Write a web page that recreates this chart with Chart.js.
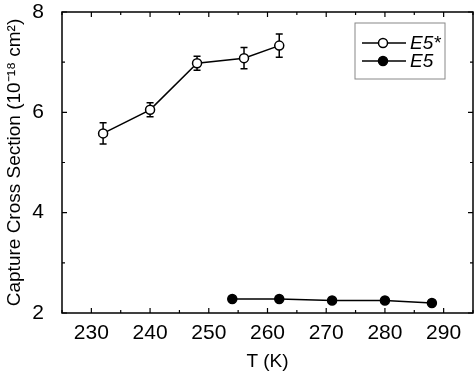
<!DOCTYPE html>
<html>
<head>
<meta charset="utf-8">
<script src="https://cdn.jsdelivr.net/npm/chart.js@4"></script>
<style>
  html, body { margin: 0; padding: 0; background: #fff; }
</style>
</head>
<body>
<canvas id="chart" width="474" height="374"></canvas>
<script>
// E5* (open circles, with error bars)
const tempE5s = [232, 240, 248, 256, 262];
const sigmaE5s = [5.58, 6.05, 6.98, 7.08, 7.33];
const errE5s = [0.21, 0.14, 0.14, 0.21, 0.23];
// E5 (filled circles)
const tempE5 = [254, 262, 271, 280, 288];
const sigmaE5 = [2.28, 2.28, 2.25, 2.25, 2.20];

const xTicks = [230, 240, 250, 260, 270, 280, 290];
const yTicks = [2, 4, 6, 8];
const legendLabels = ['E5*', 'E5'];

const font = "'Liberation Sans', Arial, sans-serif";

function pts(xs, ys) {
  return xs.map((x, i) => ({ x: x, y: ys[i] }));
}

// error bars + inward ticks + boxed legend
const extras = {
  id: 'extras',
  afterDatasetsDraw(chart) {
    const ctx = chart.ctx;
    const xs = chart.scales.x, ys = chart.scales.y;
    const a = chart.chartArea;
    ctx.save();
    ctx.strokeStyle = '#000';
    ctx.lineWidth = 1.5;

    // error bars
    tempE5s.forEach((t, i) => {
      const px = xs.getPixelForValue(t);
      const top = ys.getPixelForValue(sigmaE5s[i] + errE5s[i]);
      const bot = ys.getPixelForValue(sigmaE5s[i] - errE5s[i]);
      const mid = ys.getPixelForValue(sigmaE5s[i]);
      ctx.beginPath();
      ctx.moveTo(px, top); ctx.lineTo(px, mid - 4.5);
      ctx.moveTo(px, mid + 4.5); ctx.lineTo(px, bot);
      ctx.moveTo(px - 3.5, top); ctx.lineTo(px + 3.5, top);
      ctx.moveTo(px - 3.5, bot); ctx.lineTo(px + 3.5, bot);
      ctx.stroke();
    });

    // frame
    ctx.lineWidth = 1.5;
    ctx.strokeRect(a.left, a.top, a.right - a.left, a.bottom - a.top);

    // inward ticks
    ctx.lineWidth = 1.2;
    ctx.beginPath();
    for (let v = 225; v <= 295; v += 5) {
      const px = xs.getPixelForValue(v);
      const len = v % 10 === 0 ? 5 : 3;
      ctx.moveTo(px, a.bottom); ctx.lineTo(px, a.bottom - len);
      ctx.moveTo(px, a.top); ctx.lineTo(px, a.top + len);
    }
    for (let v = 2; v <= 8; v += 1) {
      const py = ys.getPixelForValue(v);
      const len = v % 2 === 0 ? 5 : 3;
      ctx.moveTo(a.left, py); ctx.lineTo(a.left + len, py);
      ctx.moveTo(a.right, py); ctx.lineTo(a.right - len, py);
    }
    ctx.stroke();

    // legend box
    const lx = 355, ly = 23, lw = 90, lh = 56;
    ctx.strokeStyle = '#888';
    ctx.lineWidth = 1;
    ctx.strokeRect(lx, ly, lw, lh);
    ctx.font = 'italic 19px ' + font;
    ctx.textBaseline = 'middle';
    ctx.fillStyle = '#000';
    legendLabels.forEach((lab, i) => {
      const cy = ly + 20 + i * 18;
      ctx.strokeStyle = '#000';
      ctx.lineWidth = 1.5;
      ctx.beginPath();
      ctx.moveTo(lx + 7, cy); ctx.lineTo(lx + 51, cy);
      ctx.stroke();
      ctx.beginPath();
      ctx.arc(lx + 28, cy, 4.5, 0, Math.PI * 2);
      ctx.fillStyle = i === 0 ? '#fff' : '#000';
      ctx.fill();
      ctx.stroke();
      ctx.fillStyle = '#000';
      ctx.fillText(lab, lx + 55, cy + 1);
    });
    ctx.restore();
  }
};

new Chart(document.getElementById('chart'), {
  type: 'line',
  data: {
    datasets: [
      {
        label: legendLabels[0],
        data: pts(tempE5s, sigmaE5s),
        borderColor: '#000',
        borderWidth: 1.5,
        pointRadius: 4.5,
        pointBackgroundColor: '#fff',
        pointBorderColor: '#000',
        pointBorderWidth: 1.5
      },
      {
        label: legendLabels[1],
        data: pts(tempE5, sigmaE5),
        borderColor: '#000',
        borderWidth: 1.5,
        pointRadius: 4.5,
        pointBackgroundColor: '#000',
        pointBorderColor: '#000',
        pointBorderWidth: 1.5
      }
    ]
  },
  options: {
    responsive: false,
    animation: false,
    layout: { autoPadding: false, padding: { top: 0, right: 1 } },
    plugins: {
      legend: { display: false },
      tooltip: { enabled: false }
    },
    scales: {
      x: {
        type: 'linear',
        min: 225,
        max: 295,
        afterBuildTicks(s) { s.ticks = xTicks.map(v => ({ value: v })); },
        afterFit(s) { s.height = 61; s.paddingLeft = 0; s.paddingRight = 0; },
        grid: { display: false },
        border: { display: false },
        ticks: { color: '#000', font: { family: font, size: 21 }, padding: 0 },
        title: {
          display: true, text: 'T (K)', color: '#000',
          font: { family: font, size: 19 }, padding: { top: 0, bottom: 1 }
        }
      },
      y: {
        min: 2,
        max: 8,
        afterBuildTicks(s) { s.ticks = yTicks.map(v => ({ value: v })); },
        afterFit(s) { s.width = 62; s.paddingTop = 12; s.paddingBottom = 0; },
        grid: { display: false },
        border: { display: false },
        ticks: { color: '#000', font: { family: font, size: 21 }, padding: 10 },
        title: {
          display: true, text: 'Capture Cross Section (10⁻¹⁸ cm²)', color: '#000',
          font: { family: font, size: 19 }, padding: { top: 3, bottom: 0 }
        }
      }
    }
  },
  plugins: [extras]
});
</script>
</body>
</html>
